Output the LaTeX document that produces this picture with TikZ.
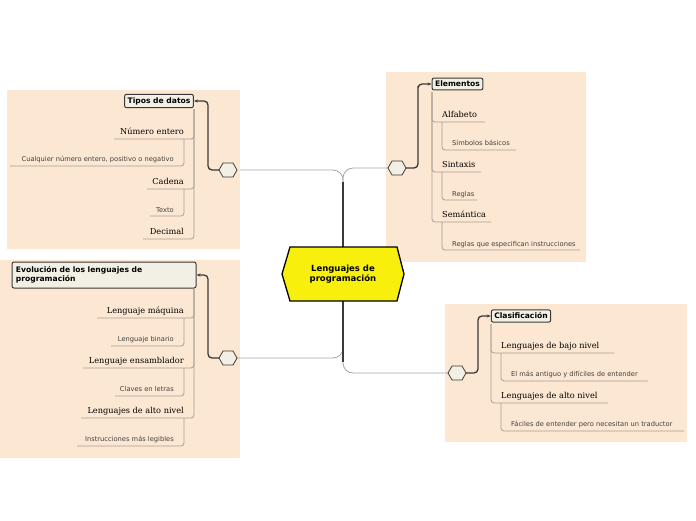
\documentclass[tikz,border=0pt]{standalone}
\usepackage{fontspec}
\usetikzlibrary{arrows.meta}
\setmainfont{DejaVu Serif}
\setsansfont{DejaVu Sans}
\begin{document}
\begin{tikzpicture}[x=1pt,y=-1pt,
 panel/.style={fill=panelc,draw=none},
 topic/.style={draw=boxd,line width=1pt,fill=boxf,rounded corners=2pt,font=\sffamily\bfseries\fontsize{7.6}{8.5}\selectfont,inner xsep=3pt,inner ysep=3pt},
 itm/.style={font=\fontsize{8.2}{9}\selectfont,inner sep=0pt},
 sub/.style={font=\sffamily\fontsize{6.7}{7}\selectfont,text=black!75,inner sep=0pt},
 ln/.style={draw=linec,line width=0.8pt,rounded corners=3pt},
 conn/.style={draw=boxd,line width=1.3pt,rounded corners=4pt,-{Stealth[length=4pt]}},
 trunk/.style={draw=boxd,line width=1.8pt},
 br/.style={draw=gray!70,line width=0.8pt,rounded corners=10pt},
 dia/.style={draw=boxd,line width=0.8pt,fill=boxf}]
\definecolor{panelc}{HTML}{FCE7D2}
\definecolor{boxf}{HTML}{F2EFE4}
\definecolor{boxd}{HTML}{3A3A3A}
\definecolor{linec}{HTML}{A89E94}
\definecolor{centc}{HTML}{F8F00C}
\useasboundingbox (0,0) rectangle (696,520);
% panels
\fill[panelc] (7,90) rectangle (240,249);
\fill[panelc] (386,72) rectangle (586,262);
\fill[panelc] (0,260) rectangle (240,458);
\fill[panelc] (445,304) rectangle (687,442);
% trunk and branches
\draw[br] (343,250) -- (343,170) -- (240,170);
\draw[br] (343,250) -- (343,168) -- (397,168);
\draw[br] (343,300) -- (343,358) -- (228,358);
\draw[br] (343,300) -- (343,373) -- (457,373);
\draw[trunk] (343,182) -- (343,362);
% center
\draw[line width=1.3pt,fill=centc] (282,274) -- (290,247) -- (397,247) -- (404,274) -- (397,301) -- (290,301) -- cycle;
\node[font=\sffamily\bfseries\fontsize{8.5}{10}\selectfont,align=center] (c) at (343,274) {Lenguajes de\\programación};
% diamonds
\foreach \n/\x/\y in {d1/228/170,d2/397/168,d3/228/358,d4/457/373}{
 \draw[dia] (\x-9,\y) -- (\x-5,\y-7) -- (\x+5,\y-7) -- (\x+9,\y) -- (\x+5,\y+7) -- (\x-5,\y+7) -- cycle;
 \coordinate (\n) at (\x,\y);}
% topics
\node[topic] (t1) at (159,101) {Tipos de datos};
\node[topic] (t2) at (457.5,84) {Elementos};
\node[topic,align=left,text width=176pt,minimum height=26pt,inner xsep=4pt] (t3) at (104,275) {Evolución de los lenguajes de\\programación};
\node[topic] (t4) at (521,316) {Clasificación};
\draw[conn] ([xshift=-9pt]d1) -| (208,110) |- (t1.east);
\draw[conn] ([xshift=9pt]d2) -| (418,90) |- (t2.west);
\draw[conn] ([xshift=-9pt]d3) -| (208,290) |- (t3.east);
\draw[conn] ([xshift=9pt]d4) -| (478,330) |- (t4.west);
% ---- Tipos de datos
\draw[ln] (194,109) |- (114,139); \draw[ln] (194,109) |- (147,189); \draw[ln] (194,109) |- (143,239);
\node[itm,anchor=base east] (a1) at (184,134) {Número entero};
\draw[ln] (184,139) |- (10,166);
\node[sub,anchor=base east] (a1s) at (174,161) {Cualquier número entero, positivo o negativo};
\node[itm,anchor=base east] (a2) at (184,184) {Cadena};
\draw[ln] (184,189) |- (150,216);
\node[sub,anchor=base east] (a2s) at (174,212) {Texto};
\node[itm,anchor=base east] (a3) at (184,234) {Decimal};
% ---- Elementos
\draw[ln] (432,92) |- (485,122); \draw[ln] (432,92) |- (481,172); \draw[ln] (432,92) |- (491,222);
\node[itm,anchor=base west] (b1) at (442,117) {Alfabeto};
\draw[ln] (442,122) |- (516,150);
\node[sub,anchor=base west] (b1s) at (452,145) {Símbolos básicos};
\node[itm,anchor=base west] (b2) at (442,167) {Sintaxis};
\draw[ln] (442,172) |- (477,200);
\node[sub,anchor=base west] (b2s) at (452,196) {Reglas};
\node[itm,anchor=base west] (b3) at (442,217) {Semántica};
\draw[ln] (442,222) |- (580,250);
\node[sub,anchor=base west] (b3s) at (452,246) {Reglas que especifican instrucciones};
% ---- Evolucion
\draw[ln] (194,288) |- (97,318); \draw[ln] (194,288) |- (83,368); \draw[ln] (194,288) |- (81,418);
\node[itm,anchor=base east] (e1) at (184,313) {Lenguaje máquina};
\draw[ln] (184,318) |- (111,346);
\node[sub,anchor=base east] (e1s) at (174,341) {Lenguaje binario};
\node[itm,anchor=base east] (e2) at (184,363) {Lenguaje ensamblador};
\draw[ln] (184,368) |- (115,396);
\node[sub,anchor=base east] (e2s) at (174,391) {Claves en letras};
\node[itm,anchor=base east] (e3) at (184,413) {Lenguajes de alto nivel};
\draw[ln] (184,418) |- (77,446);
\node[sub,anchor=base east] (e3s) at (174,441) {Instrucciones más legibles};
% ---- Clasificacion
\draw[ln] (491,324) |- (614,353); \draw[ln] (491,324) |- (608,403);
\node[itm,anchor=base west] (k1) at (501,348) {Lenguajes de bajo nivel};
\draw[ln] (501,353) |- (648,381);
\node[sub,anchor=base west] (k1s) at (511,376) {El más antiguo y difíciles de entender};
\node[itm,anchor=base west] (k2) at (501,398) {Lenguajes de alto nivel};
\draw[ln] (501,403) |- (684,431);
\node[sub,anchor=base west] (k2s) at (511,426) {Fáciles de entender pero necesitan un traductor};
\end{tikzpicture}
\end{document}
